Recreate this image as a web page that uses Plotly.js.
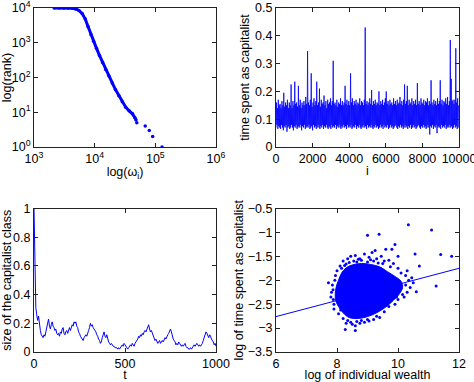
<!DOCTYPE html>
<html><head><meta charset="utf-8">
<script src="https://cdn.plot.ly/plotly-3.0.1.min.js"></script>
<style>html,body{margin:0;padding:0;background:#fff}#c{width:474px;height:382px}</style>
</head><body><div id="c"></div>
<script>
// ---- top-left: rank vs wealth (log-log)
const wealth = [2150,2600,3100,3700,4300,4900,5500,6200,7000,7800,8700,9600,10700,12000,13500,15200,17200,19500,22000,25000,28500,32500,37000,42000,46000,48000];
const rank   = [10000,10000,10000,9950,9800,9400,8500,7000,4800,2900,1700,1100,700,430,270,170,110,70,45,30,20,14,11,9,7,6];
const tailWealth = [49500,68100,79400,90300,129000];
const tailRank   = [5,4,3,2,1];
const tlXTickVals = [1e3,1e4,1e5,1e6];
const tlXTickText = ['10<sup>3</sup>','10<sup>4</sup>','10<sup>5</sup>','10<sup>6</sup>'];
const tlYTickVals = [1,10,100,1000,10000];
const tlYTickText = ['10<sup>0</sup>','10<sup>1</sup>','10<sup>2</sup>','10<sup>3</sup>','10<sup>4</sup>'];

// ---- top-right: time spent as capitalist per agent (i step 25)
const iStep = 25;
const timeSpent = [
0.07,0.16,0.08,0.14,0.065,0.17,0.075,0.15,0.07,0.155,
0.065,0.14,0.08,0.165,0.07,0.15,0.06,0.195,0.075,0.145,
0.07,0.16,0.08,0.15,0.055,0.17,0.07,0.14,0.075,0.16,
0.065,0.15,0.07,0.225,0.08,0.14,0.07,0.165,0.06,0.15,
0.075,0.235,0.07,0.155,0.08,0.16,0.065,0.145,0.07,0.22,
0.075,0.15,0.07,0.17,0.08,0.14,0.06,0.16,0.075,0.15,
0.07,0.165,0.08,0.15,0.065,0.18,0.07,0.155,0.075,0.345,
0.07,0.16,0.08,0.15,0.065,0.17,0.07,0.265,0.075,0.145,
0.06,0.16,0.08,0.175,0.07,0.15,0.075,0.165,0.065,0.235,
0.07,0.15,0.08,0.16,0.07,0.21,0.065,0.145,0.075,0.17,
0.07,0.155,0.08,0.16,0.065,0.185,0.075,0.15,0.07,0.165,
0.08,0.14,0.07,0.17,0.065,0.155,0.075,0.16,0.07,0.175,
0.065,0.15,0.08,0.165,0.07,0.31,0.075,0.155,0.07,0.16,
0.08,0.15,0.065,0.17,0.075,0.145,0.07,0.16,0.08,0.155,
0.07,0.175,0.065,0.15,0.075,0.165,0.07,0.15,0.08,0.16,
0.07,0.22,0.075,0.155,0.065,0.17,0.08,0.15,0.07,0.165,
0.075,0.15,0.07,0.265,0.08,0.16,0.065,0.175,0.07,0.15,
0.075,0.165,0.07,0.155,0.08,0.17,0.065,0.15,0.075,0.16,
0.07,0.155,0.08,0.175,0.07,0.15,0.065,0.165,0.075,0.16,
0.07,0.15,0.08,0.17,0.07,0.43,0.075,0.155,0.065,0.165,
0.08,0.15,0.07,0.16,0.075,0.175,0.07,0.155,0.08,0.205,
0.07,0.15,0.065,0.165,0.075,0.155,0.07,0.17,0.08,0.15,
0.07,0.16,0.075,0.155,0.065,0.2,0.07,0.15,0.08,0.165,
0.07,0.155,0.075,0.17,0.065,0.15,0.08,0.16,0.07,0.175,
0.075,0.2,0.07,0.155,0.08,0.165,0.065,0.15,0.07,0.17,
0.08,0.155,0.07,0.16,0.075,0.15,0.065,0.175,0.07,0.155,
0.075,0.165,0.08,0.15,0.07,0.17,0.065,0.155,0.075,0.16,
0.07,0.18,0.08,0.155,0.07,0.165,0.075,0.15,0.065,0.17,
0.07,0.225,0.08,0.155,0.07,0.165,0.075,0.22,0.065,0.15,
0.075,0.17,0.07,0.155,0.08,0.16,0.065,0.175,0.07,0.15,
0.08,0.165,0.07,0.155,0.075,0.17,0.065,0.15,0.07,0.23,
0.075,0.155,0.08,0.165,0.07,0.15,0.065,0.175,0.075,0.16,
0.07,0.155,0.08,0.17,0.07,0.15,0.075,0.165,0.065,0.16,
0.07,0.175,0.08,0.15,0.07,0.165,0.045,0.155,0.075,0.24,
0.07,0.16,0.08,0.15,0.065,0.17,0.075,0.155,0.07,0.165,
0.08,0.15,0.05,0.175,0.07,0.155,0.075,0.165,0.07,0.24,
0.065,0.155,0.08,0.17,0.07,0.15,0.075,0.165,0.07,0.16,
0.08,0.175,0.065,0.155,0.07,0.18,0.075,0.15,0.07,0.165,
0.08,0.385,0.07,0.245,0.075,0.165,0.065,0.17,0.07,0.155,
0.08,0.17,0.07,0.355,0.075,0.16,0.065,0.175,0.07,0.15];

// ---- bottom-left: size of capitalist class over time (t step 5)
const tStep = 5;
const classSize = [
1.0,0.42,0.31,0.26,0.22,0.25,0.19,0.15,0.12,0.11,
0.10,0.12,0.11,0.14,0.17,0.20,0.23,0.18,0.16,0.19,
0.21,0.18,0.17,0.15,0.16,0.13,0.12,0.13,0.11,0.14,
0.13,0.16,0.17,0.13,0.12,0.14,0.15,0.13,0.16,0.17,
0.15,0.18,0.19,0.18,0.21,0.20,0.21,0.18,0.17,0.14,
0.13,0.11,0.10,0.09,0.08,0.10,0.11,0.12,0.11,0.14,
0.15,0.17,0.20,0.18,0.19,0.17,0.16,0.15,0.14,0.12,
0.11,0.09,0.08,0.06,0.07,0.10,0.12,0.14,0.11,0.10,
0.12,0.09,0.07,0.06,0.05,0.06,0.05,0.04,0.04,0.03,
0.03,0.03,0.02,0.03,0.02,0.03,0.04,0.05,0.04,0.06,
0.05,0.04,0.03,0.02,0.03,0.04,0.05,0.04,0.06,0.05,
0.04,0.06,0.07,0.08,0.09,0.11,0.10,0.12,0.11,0.13,
0.12,0.14,0.15,0.14,0.16,0.17,0.19,0.16,0.14,0.15,
0.13,0.11,0.10,0.08,0.09,0.07,0.06,0.07,0.08,0.06,
0.07,0.08,0.07,0.09,0.10,0.09,0.11,0.12,0.13,0.15,
0.16,0.14,0.11,0.09,0.08,0.07,0.05,0.06,0.05,0.07,
0.06,0.05,0.04,0.05,0.04,0.05,0.06,0.04,0.03,0.03,
0.02,0.02,0.03,0.02,0.03,0.04,0.05,0.04,0.05,0.06,
0.05,0.04,0.05,0.04,0.05,0.06,0.08,0.10,0.12,0.14,
0.13,0.11,0.10,0.12,0.11,0.09,0.08,0.07,0.05,0.06,
0.04];

// ---- bottom-right: log wealth vs log time as capitalist
const coreX = [7.95,7.97,8.05,8.15,8.3,8.5,8.8,9.1,9.4,9.65,9.9,10.1,10.15,10.05,9.85,9.6,9.3,9.0,8.7,8.4,8.2,8.05,7.95];
const coreY = [-2.4,-2.15,-2.0,-1.85,-1.74,-1.68,-1.65,-1.67,-1.72,-1.82,-1.92,-2.02,-2.15,-2.28,-2.42,-2.56,-2.68,-2.76,-2.8,-2.78,-2.68,-2.55,-2.4];
const ptX = [8.2,8.35,8.45,8.6,8.75,8.9,9.05,9.15,9.3,9.45,9.55,9.7,9.85,9.6,9.25,8.65,8.0,7.95,8.1,
 8.3,8.55,8.8,9.0,9.2,9.5,9.75,8.4,8.7,9.1,9.35,8.25,8.15,
 7.85,7.82,7.88,7.9,7.8,7.72,7.9,7.87,7.93,
 8.05,8.2,8.3,8.45,8.6,8.75,8.9,9.05,9.2,9.4,8.27,8.6,8.5,8.35,8.8,9.0,9.3,9.55,8.12,8.65,
 9.7,9.9,10.0,10.2,10.3,10.4,10.35,10.25,10.1,10.0,10.5,10.6,10.45,10.3,10.15,10.25,9.95,
 9.0,9.38,10.34,11.1,11.4,11.76,11.25,10.56,9.8,10.0,10.7,9.9];
const ptY = [-1.6,-1.55,-1.5,-1.48,-1.55,-1.45,-1.52,-1.42,-1.55,-1.5,-1.6,-1.58,-1.65,-1.35,-1.38,-1.62,-1.8,-1.9,-1.7,
 -1.66,-1.6,-1.58,-1.62,-1.6,-1.65,-1.72,-1.63,-1.56,-1.57,-1.64,-1.69,-1.75,
 -2.1,-2.25,-2.4,-2.5,-2.35,-2.05,-2.6,-2.2,-2.0,
 -2.7,-2.8,-2.9,-2.88,-2.95,-2.9,-2.88,-2.85,-2.82,-2.78,-3.03,-3.05,-2.92,-2.84,-2.84,-2.82,-2.75,-2.66,-2.62,-2.86,
 -2.55,-2.5,-2.4,-2.35,-2.25,-2.15,-2.0,-1.9,-1.85,-1.75,-2.05,-2.24,-1.95,-1.8,-2.3,-2.1,-2.35,
 -1.06,-1.04,-0.84,-0.95,-1.46,-1.5,-2.12,-1.45,-1.35,-1.5,-1.7,-1.25];
const fitX = [6, 12];
const fitY = [-2.76, -1.75];

const BLUE = '#0000ff';
const iVals = timeSpent.map((_, k) => k * iStep);
const tVals = classSize.map((_, k) => k * tStep);

const traces = [
  {x: wealth, y: rank, xaxis:'x', yaxis:'y', mode:'lines+markers', line:{color:BLUE, width:3}, marker:{color:BLUE, size:3.5}},
  {x: tailWealth, y: tailRank, xaxis:'x', yaxis:'y', mode:'markers', marker:{color:BLUE, size:3.5}},
  {x: iVals, y: timeSpent, xaxis:'x2', yaxis:'y2', mode:'lines', line:{color:BLUE, width:0.8}},
  {x: tVals, y: classSize, xaxis:'x3', yaxis:'y3', mode:'lines', line:{color:BLUE, width:1}},
  {x: fitX, y: fitY, xaxis:'x4', yaxis:'y4', mode:'lines', line:{color:BLUE, width:1}},
  {x: coreX, y: coreY, xaxis:'x4', yaxis:'y4', mode:'lines', fill:'toself', fillcolor:BLUE, line:{color:BLUE, width:1, shape:'spline'}},
  {x: ptX, y: ptY, xaxis:'x4', yaxis:'y4', mode:'markers', marker:{color:BLUE, size:3}}
];

const FONT = {family:'Liberation Sans, Arial, Helvetica, sans-serif', size:12.5, color:'#000'};
function ax(extra){
  return Object.assign({showline:true, mirror:'ticks', linecolor:'#222', linewidth:1, ticks:'inside', ticklen:4, tickcolor:'#222',
    zeroline:false, showgrid:false, tickfont:FONT, fixedrange:true, ticklabeloverflow:'allow'}, extra);
}
const xd1=[34/474,216/474], xd2=[276/474,459/474];
const yd1=[1-147/382,1-8/382], yd2=[1-352/382,1-208.5/382];

const layout = {
  width:474, height:382, margin:{l:0,r:0,t:0,b:0}, showlegend:false,
  paper_bgcolor:'#fff', plot_bgcolor:'#fff', font:FONT,
  xaxis: ax({domain:xd1, anchor:'y', type:'log', range:[3,6], tickmode:'array', tickvals:tlXTickVals, ticktext:tlXTickText, title:{text:'log(ω<sub>i</sub>)', font:FONT, standoff:2}}),
  yaxis: ax({domain:yd1, anchor:'x', type:'log', range:[0,4], tickmode:'array', tickvals:tlYTickVals, ticktext:tlYTickText, title:{text:'log(rank)', font:FONT, standoff:2}}),
  xaxis2: ax({domain:xd2, anchor:'y2', range:[0,10000], dtick:2000, tickformat:'d', title:{text:'i', font:FONT, standoff:1}}),
  yaxis2: ax({domain:yd1, anchor:'x2', range:[0,0.5], dtick:0.1, title:{text:'time spent as capitalist', font:FONT, standoff:2}}),
  xaxis3: ax({domain:xd1, anchor:'y3', range:[0,1000], dtick:500, title:{text:'t', font:FONT, standoff:0}}),
  yaxis3: ax({domain:yd2, anchor:'x3', range:[0,1], dtick:0.2, title:{text:'size of the capitalist class', font:FONT, standoff:4}}),
  xaxis4: ax({domain:xd2, anchor:'y4', range:[6,12], dtick:2, title:{text:'log of individual wealth', font:FONT, standoff:0}}),
  yaxis4: ax({domain:yd2, anchor:'x4', range:[-3.5,-0.5], dtick:0.5, title:{text:'log of time spent as capitalist', font:FONT, standoff:1}})
};
Plotly.newPlot('c', traces, layout, {displayModeBar:false, staticPlot:true});
</script></body></html>
